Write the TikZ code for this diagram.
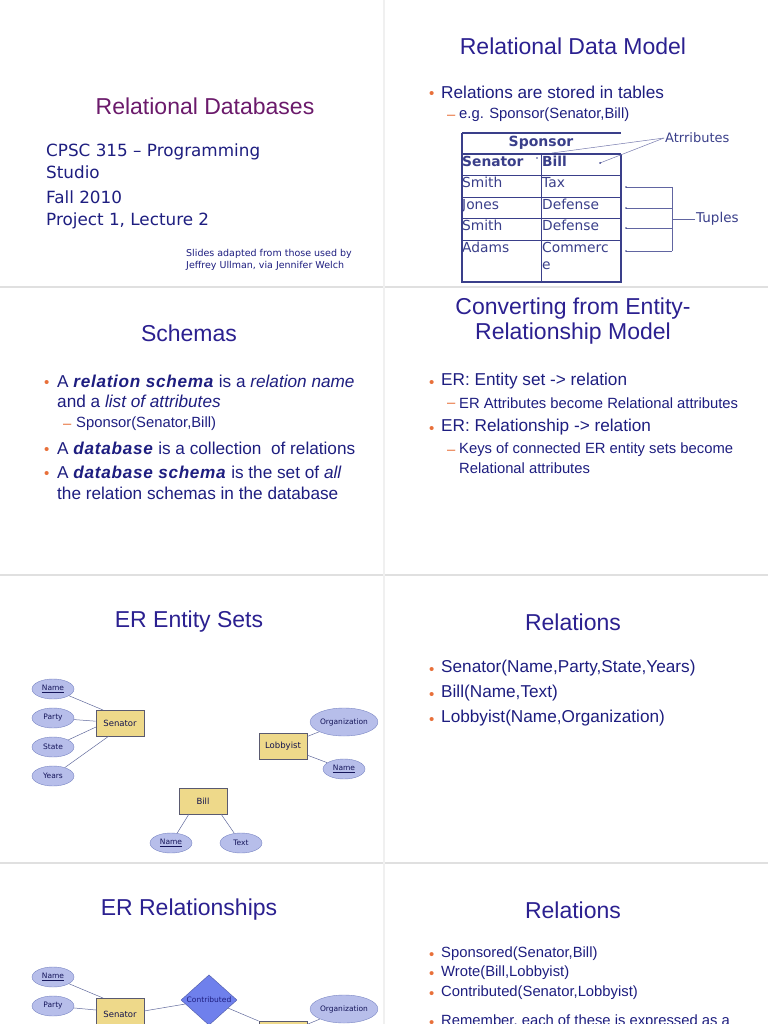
\documentclass[tikz,border=0pt]{standalone}
\usepackage{fontspec}
\setmainfont{Liberation Sans}
\newfontfamily\dv{DejaVu Sans}
\usetikzlibrary{shapes.geometric}
\definecolor{ttl}{HTML}{2B2090}
\definecolor{txt}{HTML}{1E1E80}
\definecolor{purp}{HTML}{6B1A6B}
\definecolor{orng}{HTML}{E8703A}
\definecolor{efill}{HTML}{B7BEEA}
\definecolor{edraw}{HTML}{7A86C4}
\definecolor{bfill}{HTML}{EED98A}
\definecolor{bdraw}{HTML}{5A5A70}
\definecolor{dfill}{HTML}{6F80EC}
\definecolor{tbl}{HTML}{3A3F8A}
\tikzset{
 title/.style={font=\fontsize{23}{25}\selectfont, text=ttl, anchor=center, inner sep=0},
 body/.style={font=\fontsize{17.2}{19}\selectfont, text=txt, anchor=west, inner sep=0},
 sub/.style={font=\fontsize{14.8}{16}\selectfont, text=txt, anchor=west, inner sep=0},
 bul/.style={font=\fontsize{15}{17}\selectfont, text=orng, anchor=west, inner sep=0},
 attr/.style={ellipse, fill=efill, draw=edraw, minimum width=42pt, minimum height=20pt, inner sep=0, font=\dv\fontsize{7.5}{8}\selectfont, text=txt!70!black},
 ent/.style={rectangle, fill=bfill, draw=bdraw, thick, minimum width=48pt, minimum height=26pt, inner sep=0, font=\dv\fontsize{8.5}{9}\selectfont, text=txt!60!black},
 erl/.style={draw=edraw!80!black, line width=0.5pt},
 cell/.style={font=\dv\fontsize{13.8}{16}\selectfont, text=tbl, anchor=north west, inner sep=0},
 sep/.style={draw=black!12, line width=2pt}
}
\begin{document}
\begin{tikzpicture}[x=1pt,y=-1pt]
\useasboundingbox (0,0) rectangle (768,1024);
\clip (0,0) rectangle (768,1024);
\fill[white] (0,0) rectangle (768,1024);
% separators
\foreach \yy in {287,575,863} {\draw[sep] (0,\yy) -- (768,\yy);}
\draw[draw=black!6, line width=2pt] (384,0) -- (384,1024);

% Slide 1
\node[title, text=purp] (t1) at (205,106) {Relational Databases};
\node[body, font=\dv\fontsize{16.8}{18}\selectfont] (c1) at (46,152) {CPSC 315 – Programming};
\node[body, font=\dv\fontsize{16.8}{18}\selectfont] (c2) at (46,172) {Studio};
\node[body, font=\dv\fontsize{16.8}{18}\selectfont] (c3) at (46,197) {Fall 2010};
\node[body, font=\dv\fontsize{16.8}{18}\selectfont] (c4) at (46,221) {Project 1, Lecture 2};
\node[body, font=\dv\fontsize{9.5}{11}\selectfont] (c5) at (186,254) {Slides adapted from those used by};
\node[body, font=\dv\fontsize{9.5}{11}\selectfont] (c6) at (186,266) {Jeffrey Ullman, via Jennifer Welch};

% Slide 2
\node[title] (t2) at (573,46) {Relational Data Model};
\node[bul] (b21) at (429,95) {•};
\node[body] (r21) at (441,92) {Relations are stored in tables};
\node[sub, text=orng] (d21) at (447,117) {–};
\node[sub] (r22) at (459,115) {e.g. Sponsor(Senator,Bill)};
% table
\draw[tbl, line width=1.5pt] (462,133) -- (621,133);
\draw[tbl, line width=1.5pt] (462,133) -- (462,282) -- (621,282) -- (621,154);
\draw[tbl, line width=1.2pt] (462,154) -- (621,154);
\draw[tbl, line width=0.8pt] (541,154) -- (541,282);
\foreach \yy in {175,197,218,240} {\draw[tbl, line width=0.8pt] (462,\yy) -- (621,\yy);}
\node[font=\dv\bfseries\fontsize{14}{16}\selectfont, text=tbl, inner sep=0] (sp) at (541,143) {Sponsor};
\node[cell, font=\dv\bfseries\fontsize{13.8}{16}\selectfont] (h1) at (462,156) {Senator};
\node[cell, font=\dv\bfseries\fontsize{13.8}{16}\selectfont] (h2) at (542,156) {Bill};
\node[cell] (a1) at (462,177) {Smith};  \node[cell] (a2) at (542,177) {Tax};
\node[cell] (a3) at (462,199) {Jones};  \node[cell] (a4) at (542,199) {Defense};
\node[cell] (a5) at (462,220) {Smith};  \node[cell] (a6) at (542,220) {Defense};
\node[cell] (a7) at (462,242) {Adams};
\node[cell, align=left, font=\dv\fontsize{13.8}{17}\selectfont] (a8) at (542,242) {Commerc\\e};
\node[font=\dv\fontsize{13}{15}\selectfont, text=tbl, anchor=west, inner sep=1pt] (atr) at (664,138) {Atrributes};
\node[font=\dv\fontsize{13.5}{15}\selectfont, text=tbl, anchor=west, inner sep=1pt] (tup) at (695,219) {Tuples};
\coordinate (p2) at (600,163);
\draw[tbl!70, line width=0.5pt] (atr.west) -- (552,153);
\draw[tbl!70, line width=0.5pt] (atr.west) -- (p2);
\fill[tbl] (p2) circle (1pt); \fill[tbl] (537,158) circle (0.8pt);
\coordinate (br) at (672,219);
\draw[tbl!80, line width=0.6pt] (tup.west) -- (br);
\draw[tbl!80, line width=0.6pt] (672,187) -- (672,251);
\foreach \yy in {187,208,228,251} {\draw[tbl!80, line width=0.6pt] (672,\yy) -- (626,\yy); \fill[tbl] (626,\yy) circle (0.9pt);}

% Slide 3
\node[title] (t3) at (189,333) {Schemas};
\node[bul] at (44,384) {•};
\node[body] (s1) at (57,381) {A \textbf{\textit{\addfontfeature{LetterSpace=4}relation schema}} is a \textit{relation name}};
\node[body] (s2) at (57,401) {and a \textit{list of attributes}};
\node[sub, text=orng] at (63,426) {–};
\node[sub] (s3) at (76,424) {Sponsor(Senator,Bill)};
\node[bul] at (44,451) {•};
\node[body] (s4) at (57,448) {A \textbf{\textit{\addfontfeature{LetterSpace=4}database}} is a collection \ of relations};
\node[bul] at (44,475) {•};
\node[body] (s5) at (57,472) {A \textbf{\textit{\addfontfeature{LetterSpace=4}database schema}} is the set of \textit{all}};
\node[body] (s6) at (57,493) {the relation schemas in the database};

% Slide 4
\node[title] (t4a) at (573,309) {Converting from Entity-};
\node[title] (t4b) at (573,334) {Relationship Model};
\node[bul] at (429,384) {•};
\node[body] (v1) at (441,381) {ER: Entity set -> relation};
\node[sub, text=orng] at (447,405) {–};
\node[sub] (v2) at (459,403) {ER Attributes become Relational attributes};
\node[bul] at (429,430) {•};
\node[body] (v3) at (441,427) {ER: Relationship -> relation};
\node[sub, text=orng] at (447,452) {–};
\node[sub] (v4) at (459,450) {Keys of connected ER entity sets become};
\node[sub] (v5) at (459,468) {Relational attributes};

% Slide 5
\node[title] (t5) at (189,622) {ER Entity Sets};
\node[attr] (n1) at (53,689) {\underline{Name}};
\node[attr] (n2) at (53,718) {Party};
\node[attr] (n3) at (53,747) {State};
\node[attr] (n4) at (53,776) {Years};
\node[ent] (sen) at (120,723) {Senator};
\node[ent] (lob) at (283,746) {Lobbyist};
\node[attr, minimum width=48pt, minimum height=28pt] (org) at (344,722) {Organization};
\node[attr] (ln) at (344,769) {\underline{Name}};
\node[ent] (bill) at (203,801) {Bill};
\node[attr] (bn) at (171,843) {\underline{Name}};
\node[attr] (bt) at (241,843) {Text};
\draw[erl] (n1) -- (103,710);
\draw[erl] (n2) -- (sen);
\draw[erl] (n3) -- (96,727);
\draw[erl] (n4) -- (109,736);
\draw[erl] (lob) -- (org);
\draw[erl] (lob) -- (ln);
\draw[erl] (189,814) -- (bn);
\draw[erl] (221,814) -- (bt);

% Slide 6
\node[title] (t6) at (573,622) {Relations};
\node[bul] at (429,671) {•};
\node[body] (e1) at (441,668) {Senator(Name,Party,State,Years)};
\node[bul] at (429,696) {•};
\node[body] (e2) at (441,693) {Bill(Name,Text)};
\node[bul] at (429,721) {•};
\node[body] (e3) at (441,718) {Lobbyist(Name,Organization)};

% Slide 7
\node[title] (t7) at (189,910) {ER Relationships};
\node[attr] (m1) at (53,977) {\underline{Name}};
\node[attr] (m2) at (53,1006) {Party};
\node[ent, minimum height=40pt, anchor=north] (sen2) at (120,998) {\raisebox{8pt}{Senator}};
\node[diamond, fill=dfill, draw=dfill!70!black, minimum width=56pt, minimum height=40pt, inner sep=0, font=\dv\fontsize{7.5}{8}\selectfont, text=txt] (con) at (209,1000) {Contributed};
\node[attr, minimum width=48pt, minimum height=28pt] (org2) at (344,1009) {Organization};
\node[ent, anchor=north] (lob2) at (283,1021) {};
\draw[erl] (m1) -- (103,998);
\draw[erl] (m2) -- (96,1010);
\draw[erl] (con) -- (144,1011);
\draw[erl] (con) -- (lob2.north west);
\draw[erl] (lob2) -- (org2);

% Slide 8
\node[title] (t8) at (573,910) {Relations};
\node[sub, text=orng] at (429,956) {•};
\node[sub] (f1) at (441,954) {Sponsored(Senator,Bill)};
\node[sub, text=orng] at (429,975) {•};
\node[sub] (f2) at (441,973) {Wrote(Bill,Lobbyist)};
\node[sub, text=orng] at (429,995) {•};
\node[sub] (f3) at (441,993) {Contributed(Senator,Lobbyist)};
\node[sub, text=orng] at (429,1024) {•};
\node[sub] (f4) at (441,1022) {Remember, each of these is expressed as a};
\end{tikzpicture}
\end{document}
